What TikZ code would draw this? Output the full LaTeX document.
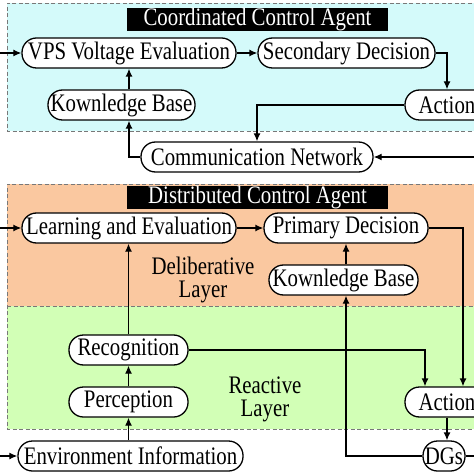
\documentclass[tikz,border=0pt]{standalone}
\usepackage{graphicx}
\usepackage{fontspec}
\setmainfont{Liberation Serif}
\usetikzlibrary{arrows.meta,calc}
\definecolor{cyanbg}{RGB}{212,250,250}
\definecolor{orangebg}{RGB}{250,200,160}
\definecolor{greenbg}{RGB}{210,255,182}
\definecolor{dashgray}{RGB}{120,120,120}
\newcommand{\tx}[1]{\scalebox{1}[1.21]{#1}}
\tikzset{
  box/.style={draw=black, line width=1.3bp, fill=white, rounded corners=14.5bp,
    minimum height=30bp, inner xsep=2bp, inner ysep=0bp,
    font=\fontsize{20.9}{24}\selectfont},
  titlebox/.style={fill=black, text=white, inner sep=0bp,
    font=\fontsize{20.9}{24}\selectfont},
  layertext/.style={inner sep=0bp, font=\fontsize{20.9}{18.2}\selectfont},
  arr/.style={line width=1.3bp, -{Latex[length=8bp,width=7bp]}},
  ln/.style={line width=1.3bp},
  region/.style={draw=dashgray, line width=0.8bp, dash pattern=on 4bp off 2.5bp}
}
\begin{document}
\begin{tikzpicture}[x=1bp,y=-1bp]
\useasboundingbox (0,0) rectangle (474,474);
% regions
\fill[cyanbg] (7,3) rectangle (530,131);
\draw[region] (530,3) -- (7,3) -- (7,131) -- (530,131);
\fill[orangebg] (7,184) rectangle (530,306);
\fill[greenbg] (7,306) rectangle (530,429);
\draw[region] (530,184) -- (7,184) -- (7,429) -- (530,429);
\draw[region] (7,306) -- (530,306);

% titles
\node[titlebox, minimum width=261bp, minimum height=23bp] (t1) at (257.5,19.5) {\tx{Coordinated Control Agent}};
\node[titlebox, minimum width=261bp, minimum height=21bp] (t2) at (257.5,197.5) {\tx{Distributed Control Agent}};

% top nodes
\node[box, minimum width=214bp] (vps) at (129,53) {\tx{VPS Voltage Evaluation}};
\node[box, minimum width=177bp] (sec) at (346.5,53) {\tx{Secondary Decision}};
\node[box, minimum width=147bp] (kb1) at (121.5,105) {\tx{Kownledge Base}};
\node[box, minimum width=84bp] (act1) at (447,105) {\tx{Action}};
\node[box, minimum width=232bp] (comm) at (257,157) {\tx{Communication Network}};

% lower nodes
\node[box, minimum width=214bp] (learn) at (129,228) {\tx{Learning and Evaluation}};
\node[box, minimum width=164bp] (prim) at (346,228) {\tx{Primary Decision}};
\node[box, minimum width=149bp] (kb2) at (343.5,280) {\tx{Kownledge Base}};
\node[layertext] (delib) at (203,281) {\tx{\begin{tabular}{@{}c@{}}Deliberative\\Layer\end{tabular}}};
\node[box, minimum width=119bp] (recog) at (128.5,350) {\tx{Recognition}};
\node[box, minimum width=119bp] (percep) at (128.5,402) {\tx{Perception}};
\node[layertext] (react) at (265,400) {\tx{\begin{tabular}{@{}c@{}}Reactive\\Layer\end{tabular}}};
\node[box, minimum width=84bp] (act2) at (447,402) {\tx{Action}};
\node[box, minimum width=225bp] (env) at (130.5,456) {\tx{Environment Information}};
\node[box, minimum width=42bp, inner xsep=1bp] (dgs) at (444,456) {\tx{DGs}};

% free ends
\coordinate (in1) at (-2,53);
\coordinate (in2) at (-2,228);
\coordinate (in3) at (-2,456);
\coordinate (r1) at (480,157);
\coordinate (r2) at (480,456);

% top connectors
\draw[arr] (in1) -- (vps.west);
\draw[arr] (vps.east) -- (sec.west);
\draw[arr] (sec.east) -| (act1.north);
\draw[arr] (act1.west) -| (comm.north);
\draw[arr] (comm.west) -| (kb1.south -| vps.south);
\draw[arr] (kb1.north -| vps.south) -- (vps.south);
\draw[arr] (r1) -- (comm.east);

% lower connectors
\draw[arr] (in2) -- (learn.west);
\draw[arr] (learn.east) -- (prim.west);
\draw[arr] (recog.north) -- (recog.north |- learn.south);
\draw[arr] (percep.north) -- (recog.south);
\draw[arr] (env.north -| percep.north) -- (percep.south);
\draw[arr] (prim.east) -| ($(act2.north)+(16,0)$);
\draw[arr] (recog.east) -| ($(act2.north)+(-22,0)$);
\draw[arr] (dgs.west) -| (kb2.south -| prim.south);
\draw[arr] (kb2.north -| prim.south) -- (prim.south);
\draw[arr] (act2.south) -- (act2.south |- dgs.north);
\draw[ln] (dgs.east) -- (r2);
\draw[arr] (in3) -- (env.west);
\end{tikzpicture}
\end{document}
